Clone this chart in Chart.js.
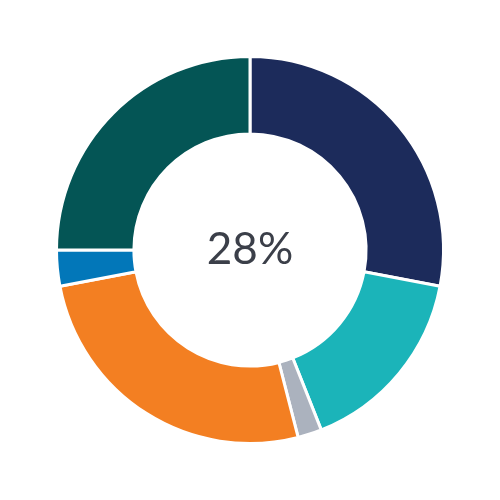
<!DOCTYPE html>
<html>
<head>
<meta charset="utf-8">
<script src="https://cdn.jsdelivr.net/npm/chart.js@4"></script>
<style>
  html, body { margin: 0; padding: 0; background: #fff; }
  #wrap { width: 500px; height: 500px; position: relative; }
</style>
</head>
<body>
<div id="wrap"><canvas id="rosca"></canvas></div>
<script>
const labels = ['Segment A', 'Segment B', 'Segment C', 'Segment D', 'Segment E', 'Segment F'];
const values = [28, 16, 2, 26, 3, 25];
const colors = ['#1c2b5b', '#1bb4b9', '#abb2be', '#f37f22', '#0277b9', '#045555'];
const centerLabel = '28%';

const centerText = {
  id: 'centerText',
  afterDraw(chart) {
    const c = chart.ctx;
    const meta = chart.getDatasetMeta(0).data[0];
    c.save();
    c.font = '44px Lato, "Open Sans", sans-serif';
    c.fillStyle = '#3b3f49';
    c.textAlign = 'center';
    c.textBaseline = 'middle';
    c.fillText(centerLabel, meta.x, meta.y);
    c.restore();
  }
};

new Chart(document.getElementById('rosca'), {
  type: 'doughnut',
  data: {
    labels: labels,
    datasets: [{
      data: values,
      backgroundColor: colors,
      borderColor: '#ffffff',
      borderWidth: 3
    }]
  },
  options: {
    responsive: true,
    maintainAspectRatio: false,
    animation: false,
    cutout: '60%',
    layout: { padding: 55 },
    plugins: {
      legend: { display: false },
      tooltip: { enabled: false }
    }
  },
  plugins: [centerText]
});
</script>
</body>
</html>
